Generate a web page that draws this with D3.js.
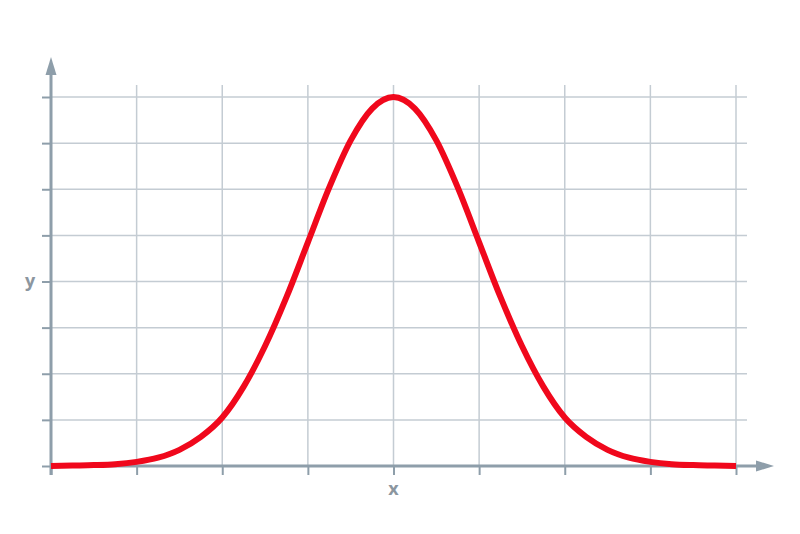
<!DOCTYPE html>
<html>
<head>
<meta charset="utf-8">
<script src="https://cdn.jsdelivr.net/npm/d3@7"></script>
<style>
  html, body { margin: 0; padding: 0; background: #fff; }
  svg { display: block; }
</style>
</head>
<body>
<svg id="chart" width="800" height="534"></svg>
<script>
// Data (x in grid units, y in grid units)
const xValues = [-4, -3.75, -3.5, -3.25, -3, -2.75, -2.5, -2.25, -2, -1.75, -1.5, -1.25, -1, -0.75, -0.5, -0.25,
                 0, 0.25, 0.5, 0.75, 1, 1.25, 1.5, 1.75, 2, 2.25, 2.5, 2.75, 3, 3.25, 3.5, 3.75, 4];
const yValues = [0, 0.01, 0.02, 0.04, 0.09, 0.18, 0.35, 0.63, 1.05, 1.72, 2.6, 3.66, 4.85, 6.04, 7.06, 7.75,
                 8, 7.75, 7.06, 6.04, 4.85, 3.66, 2.6, 1.72, 1.05, 0.63, 0.35, 0.18, 0.09, 0.04, 0.02, 0.01, 0];
const xTicks = [-4, -3, -2, -1, 0, 1, 2, 3, 4];
const yTicks = [0, 1, 2, 3, 4, 5, 6, 7, 8];
const xLabel = "x";
const yLabel = "y";

const svg = d3.select("#chart");
const x = d3.scaleLinear().domain([-4, 4]).range([51, 736]);
const y = d3.scaleLinear().domain([0, 8]).range([466, 97]);

const gridColor = "#c4ccd3";
const axisColor = "#8e9eaa";

// vertical grid
svg.append("g").selectAll("line").data(xTicks.slice(1)).join("line")
  .attr("x1", d => x(d)).attr("x2", d => x(d))
  .attr("y1", y(8) - 12).attr("y2", y(0))
  .attr("stroke", gridColor).attr("stroke-width", 1.5);

// horizontal grid
svg.append("g").selectAll("line").data(yTicks.slice(1)).join("line")
  .attr("x1", x(-4)).attr("x2", x(4) + 11)
  .attr("y1", d => y(d)).attr("y2", d => y(d))
  .attr("stroke", gridColor).attr("stroke-width", 1.5);

// x axis
const xAxis = d3.axisBottom(x).tickValues(xTicks).tickSize(9).tickFormat("");
const gx = svg.append("g").attr("transform", `translate(0,${y(0)})`).call(xAxis);
gx.select(".domain").remove();
gx.selectAll(".tick line").attr("stroke", axisColor).attr("stroke-width", 2);
svg.append("line").attr("x1", x(-4)).attr("x2", 760).attr("y1", y(0)).attr("y2", y(0))
  .attr("stroke", axisColor).attr("stroke-width", 3);
svg.append("path").attr("d", `M774,${y(0)} L756,${y(0) - 5.5} L756,${y(0) + 5.5} Z`).attr("fill", axisColor);

// y axis
const yAxis = d3.axisLeft(y).tickValues(yTicks).tickSize(9).tickFormat("");
const gy = svg.append("g").attr("transform", `translate(${x(-4)},0)`).call(yAxis);
gy.select(".domain").remove();
gy.selectAll(".tick line").attr("stroke", axisColor).attr("stroke-width", 2);
svg.append("line").attr("x1", x(-4)).attr("x2", x(-4)).attr("y1", y(0) + 9).attr("y2", 70)
  .attr("stroke", axisColor).attr("stroke-width", 3);
svg.append("path").attr("d", `M${x(-4)},57 L${x(-4) - 5.5},75 L${x(-4) + 5.5},75 Z`).attr("fill", axisColor);

// labels
svg.append("text").attr("x", 30).attr("y", 287).attr("text-anchor", "middle")
  .attr("font-family", "Open Sans, sans-serif").attr("font-weight", "bold").attr("font-size", 18)
  .attr("fill", "#8c969f").text(yLabel);
svg.append("text").attr("x", x(0)).attr("y", 495).attr("text-anchor", "middle")
  .attr("font-family", "Open Sans, sans-serif").attr("font-weight", "bold").attr("font-size", 18)
  .attr("fill", "#8c969f").text(xLabel);

// curve
const data = xValues.map((v, i) => ({ x: v, y: yValues[i] }));
const line = d3.line().x(d => x(d.x)).y(d => y(d.y)).curve(d3.curveMonotoneX);
svg.append("path").datum(data).attr("d", line)
  .attr("fill", "none").attr("stroke", "#f0081c").attr("stroke-width", 6)
  .attr("stroke-linejoin", "round");
</script>
</body>
</html>
